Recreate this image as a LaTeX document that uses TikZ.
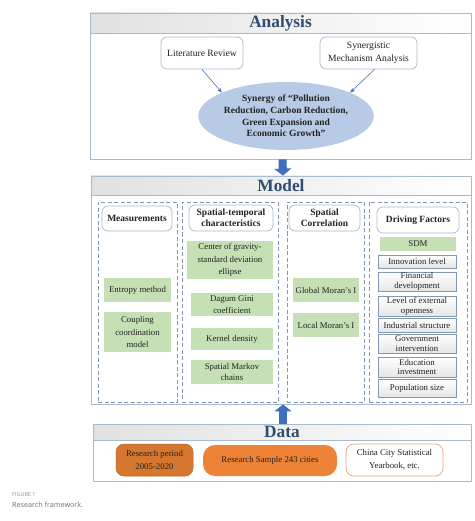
\documentclass[tikz,border=0pt]{standalone}
\usepackage{fontspec}
\setmainfont{Liberation Serif}
\newfontfamily\capfont{Open Sans}
\usetikzlibrary{arrows.meta,shapes.geometric}
\definecolor{titleblue}{HTML}{2F4D6E}
\definecolor{panelline}{HTML}{A9B9D0}
\definecolor{dashline}{HTML}{8497B0}
\definecolor{greenbox}{HTML}{C5E0B4}
\definecolor{ellblue}{HTML}{B8CBE6}
\definecolor{arrowblue}{HTML}{4A6FB5}
\definecolor{bigarrow}{HTML}{3F6FBF}
\definecolor{orangedark}{HTML}{D5772F}
\definecolor{orangelight}{HTML}{EE8236}
\definecolor{orangeline}{HTML}{E3A27A}
\definecolor{txt}{HTML}{222222}
\tikzset{
  panel/.style={draw=panelline, line width=0.8pt, fill=white, inner sep=0pt},
  titleband/.style={draw=panelline, line width=0.8pt, inner sep=0pt,
    shading=axis, left color=black!12, right color=white,
    font=\fontsize{17.3}{18}\selectfont\bfseries, text=titleblue},
  column/.style={draw=dashline, dashed, dash pattern=on 4pt off 2.5pt, line width=0.7pt, inner sep=0pt},
  header/.style={draw=panelline, line width=0.7pt, fill=white, rounded corners=6pt, inner sep=0pt,
    align=center, font=\fontsize{9.5}{11.5}\selectfont\bfseries, text=txt},
  srcbox/.style={draw=panelline, line width=0.7pt, fill=white, rounded corners=6pt, inner sep=0pt,
    align=center, font=\fontsize{9.6}{13.5}\selectfont, text=txt},
  greenitem/.style={fill=greenbox, inner sep=0pt, align=center,
    font=\fontsize{8.8}{12.5}\selectfont, text=txt},
  factor/.style={draw=dashline, line width=0.5pt, inner sep=0pt, align=center,
    top color=white, bottom color=black!10,
    font=\fontsize{8.8}{9.8}\selectfont, text=txt},
  thinarrow/.style={draw=arrowblue, line width=0.6pt, -{Stealth[length=5pt,width=4pt]}},
  blockarrow/.style={draw=bigarrow, line width=8pt, -{Triangle[width=17pt,length=7pt]}},
  databox/.style={rounded corners=8pt, inner sep=0pt, align=center,
    font=\fontsize{8.8}{13}\selectfont, text=txt}
}
\begin{document}
\begin{tikzpicture}[x=1pt,y=-1pt]
\useasboundingbox (0,0) rectangle (474,521);
% ---------- Analysis ----------
\node[panel, minimum width=381pt, minimum height=146pt] (ana) at (280.5,86) {};
\node[titleband, minimum width=381pt, minimum height=20pt] (anaT) at (280.5,23) {Analysis};
\node[srcbox, minimum width=82pt, minimum height=32pt] (lit) at (202,53) {Literature Review};
\node[srcbox, minimum width=97pt, minimum height=32pt] (syn) at (368.5,53) {Synergistic\\Mechanism Analysis};
\node[ellipse, fill=ellblue, inner sep=0pt, minimum width=134pt, minimum height=68pt, align=center,
  font=\fontsize{9.5}{11.7}\selectfont\bfseries, text=txt] (ell) at (286,116)
  {Synergy of “Pollution\\Reduction, Carbon Reduction,\\Green Expansion and\\Economic Growth”};
\draw[thinarrow] (lit.south) -- (ell.160);
\draw[thinarrow] ([xshift=6pt]syn.south) -- (ell.20);
% ---------- Model ----------
\node[panel, minimum width=380pt, minimum height=228pt] (mod) at (281,290) {};
\node[titleband, minimum width=380pt, minimum height=19pt] (modT) at (281,185.5) {Model};
\draw[blockarrow] ([xshift=2pt]ana.south) -- ([xshift=2pt]modT.north);
\node[column, minimum width=79pt, minimum height=200pt] (c1) at (137.5,302) {};
\node[column, minimum width=96pt, minimum height=200pt] (c2) at (230,302) {};
\node[column, minimum width=77pt, minimum height=200pt] (c3) at (325.5,302) {};
\node[column, minimum width=98pt, minimum height=200pt] (c4) at (418,302) {};
\node[header, minimum width=70pt, minimum height=25pt] (h1) at (137,218.5) {Measurements};
\node[header, minimum width=84pt, minimum height=26pt] (h2) at (231,218) {Spatial-temporal\\characteristics};
\node[header, minimum width=71pt, minimum height=26pt] (h3) at (324.5,218) {Spatial\\Correlation};
\node[header, minimum width=82pt, minimum height=26pt] (h4) at (418,220) {Driving Factors};
% column 1
\node[greenitem, minimum width=67pt, minimum height=24pt] (ent) at (137.5,290) {Entropy method};
\node[greenitem, minimum width=67pt, minimum height=40pt] (cpl) at (137.5,332) {Coupling\\coordination\\model};
% column 2
\node[greenitem, minimum width=86pt, minimum height=38pt] (cog) at (230,260) {Center of gravity-\\standard deviation\\ellipse};
\node[greenitem, minimum width=82pt, minimum height=23pt, font=\fontsize{8.8}{11.5}\selectfont] (dag) at (232,304.5) {Dagum Gini\\coefficient};
\node[greenitem, minimum width=82pt, minimum height=22pt] (ker) at (232,339) {Kernel density};
\node[greenitem, minimum width=82pt, minimum height=24pt, font=\fontsize{8.8}{11.5}\selectfont] (mkv) at (232,372) {Spatial Markov\\chains};
% column 3
\node[greenitem, minimum width=66pt, minimum height=24pt] (glo) at (326,290) {Global Moran's I};
\node[greenitem, minimum width=66pt, minimum height=24pt] (loc) at (326,325) {Local Moran's I};
% column 4
\node[greenitem, minimum width=76pt, minimum height=14pt] (sdm) at (418,244) {SDM};
\node[factor, minimum width=78pt, minimum height=13pt] (f1) at (417,261.5) {Innovation level};
\node[factor, minimum width=78pt, minimum height=19pt] (f2) at (417,281.5) {Financial\\development};
\node[factor, minimum width=78pt, minimum height=20pt] (f3) at (417,306) {Level of external\\openness};
\node[factor, minimum width=78pt, minimum height=14pt] (f4) at (417,325) {Industrial structure};
\node[factor, minimum width=78pt, minimum height=19pt] (f5) at (417,343.5) {Government\\intervention};
\node[factor, minimum width=78pt, minimum height=20pt] (f6) at (417,367) {Education\\investment};
\node[factor, minimum width=78pt, minimum height=18pt] (f7) at (417,388) {Population size};
% ---------- Data ----------
\node[panel, minimum width=378pt, minimum height=57pt] (dat) at (282,452.5) {};
\node[titleband, minimum width=378pt, minimum height=16pt] (datT) at (282,432) {Data};
\draw[blockarrow] ([xshift=1pt]datT.north) -- ([xshift=2pt]mod.south);
\node[databox, fill=orangedark, draw=orangedark!85!black, line width=0.5pt, minimum width=77pt, minimum height=32pt] (per) at (154.5,460) {Research period\\2005-2020};
\node[databox, fill=orangelight, minimum width=134pt, minimum height=31pt, rounded corners=12pt] (smp) at (270,460.5) {Research Sample 243 cities};
\node[databox, fill=white, draw=orangeline, line width=0.7pt, minimum width=97pt, minimum height=32pt] (yb) at (394.5,460) {China City Statistical\\Yearbook, etc.};
% ---------- Caption ----------
\node[anchor=west, inner sep=0pt, text=black!45, font=\capfont\fontsize{5.5}{6}\selectfont] (cap1) at (12,495) {FIGURE 1};
\node[anchor=west, inner sep=0pt, text=black!55, font=\capfont\fontsize{7.2}{8}\selectfont] (cap2) at (12,505) {Research framework.};
\end{tikzpicture}
\end{document}
